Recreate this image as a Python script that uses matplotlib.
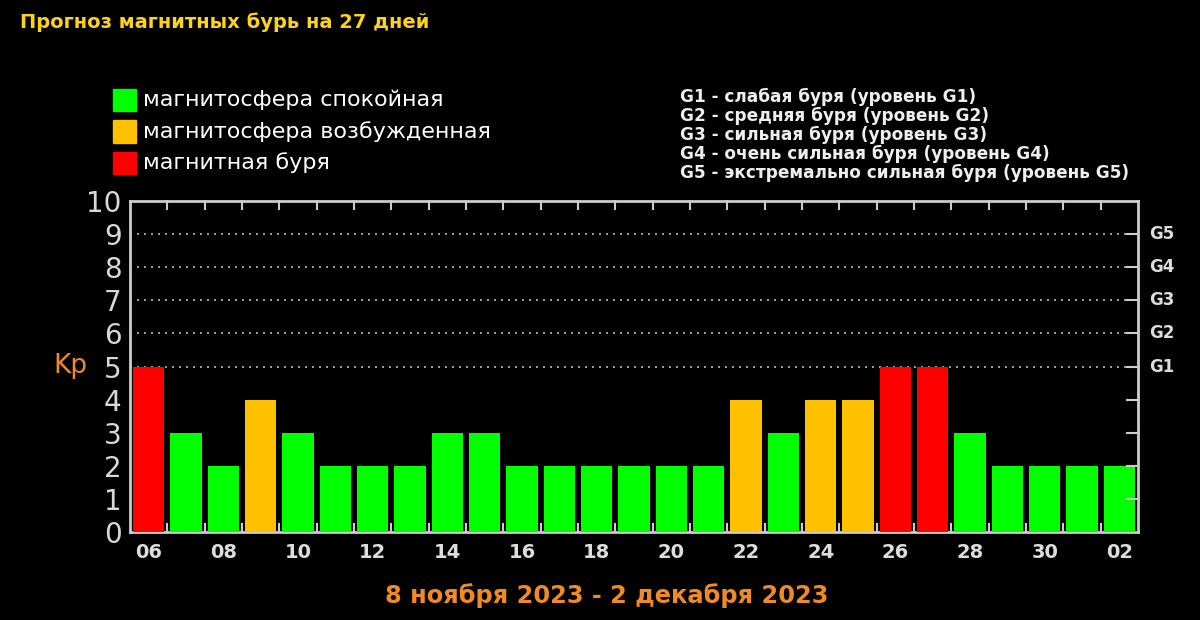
import matplotlib.pyplot as plt
from matplotlib.patches import Rectangle

# Kp forecast, 6 Nov - 2 Dec 2023
days = ['06', '07', '08', '09', '10', '11', '12', '13', '14', '15', '16', '17', '18', '19',
        '20', '21', '22', '23', '24', '25', '26', '27', '28', '29', '30', '01', '02']
kp = [5, 3, 2, 4, 3, 2, 2, 2, 3, 3, 2, 2, 2, 2, 2, 2, 4, 3, 4, 4, 5, 5, 3, 2, 2, 2, 2]
levels = ['G1', 'G2', 'G3', 'G4', 'G5']
level_kp = [5, 6, 7, 8, 9]
legend_labels = ['магнитосфера спокойная', 'магнитосфера возбужденная', 'магнитная буря']
g_descr = ['G1 - слабая буря (уровень G1)',
           'G2 - средняя буря (уровень G2)',
           'G3 - сильная буря (уровень G3)',
           'G4 - очень сильная буря (уровень G4)',
           'G5 - экстремально сильная буря (уровень G5)']

GREEN, ORANGE, RED = '#00ff00', '#ffc000', '#ff0000'

def bar_color(v):
    if v >= 5:
        return RED
    if v == 4:
        return ORANGE
    return GREEN

fig = plt.figure(figsize=(12, 6.2), dpi=100, facecolor='black')
ax = fig.add_axes([130 / 1200, 88 / 620, 1008 / 1200, 331 / 620])
ax.set_facecolor('black')

x = list(range(len(days)))
ax.bar(x, kp, width=0.84, color=[bar_color(v) for v in kp], zorder=3)

ax.set_xlim(-0.5, len(days) - 0.5)
ax.set_ylim(0, 10)

# dotted grid for storm levels
for y in level_kp:
    ax.axhline(y, color='#bbbbbb', lw=1.2, ls=(0, (1.2, 3)), zorder=1)

for s in ax.spines.values():
    s.set_color('#cccccc')
    s.set_linewidth(2)

ax.set_yticks(range(11))
ax.set_yticklabels([str(i) for i in range(11)], color='#d8d8d8', fontsize=20,
                   family='DejaVu Sans')
ax.tick_params(axis='y', length=0, pad=6)
ax.tick_params(axis='y', which='both', left=False)

ax.set_xticks(x[::2])
ax.set_xticklabels(days[::2], color='#dddddd', fontsize=14, fontweight='bold')
ax.tick_params(axis='x', length=0, pad=8)

# boundary ticks on top and bottom
for b in range(1, len(days)):
    ax.plot([b - 0.5, b - 0.5], [10, 9.75], color='#cccccc', lw=1.5, zorder=4, clip_on=False)
    ax.plot([b - 0.5, b - 0.5], [0, 0.25], color='#cccccc', lw=1.5, zorder=4, clip_on=False)

# right ticks and G labels
for y in range(1, 10):
    ax.plot([len(days) - 0.5, len(days) - 0.8], [y, y], color='#cccccc', lw=1.5,
            zorder=4, clip_on=False)
for lab, y in zip(levels, level_kp):
    ax.text(len(days) - 0.2, y, lab, color='#dddddd', fontsize=12, fontweight='bold',
            va='center', ha='left')

fig.text(53 / 1200, 1 - 366 / 620, 'Kp', color='#f08a24', fontsize=19,
         ha='left', va='center')

fig.text(20 / 1200, 1 - 22 / 620, 'Прогноз магнитных бурь на 27 дней', color='#ffd21a',
         fontsize=14, fontweight='bold', ha='left', va='center')

fig.text(607 / 1200, 1 - 596 / 620, '8 ноября 2023 - 2 декабря 2023', color='#f08a24',
         fontsize=17.4, fontweight='bold', ha='center', va='center')

# colour legend
for i, (lab, c) in enumerate(zip(legend_labels, [GREEN, ORANGE, RED])):
    yc = 100 + i * 31.5
    fig.patches.append(Rectangle((113 / 1200, 1 - (yc + 11) / 620), 23 / 1200, 22 / 620,
                                 transform=fig.transFigure, color=c))
    fig.text(143 / 1200, 1 - yc / 620, lab, color='white', fontsize=16,
             ha='left', va='center')

for i, t in enumerate(g_descr):
    fig.text(680 / 1200, 1 - (97 + i * 19) / 620, t, color='#eeeeee', fontsize=12.2,
             fontweight='bold', ha='left', va='center')

fig.savefig('out.png', dpi=100, facecolor='black')
